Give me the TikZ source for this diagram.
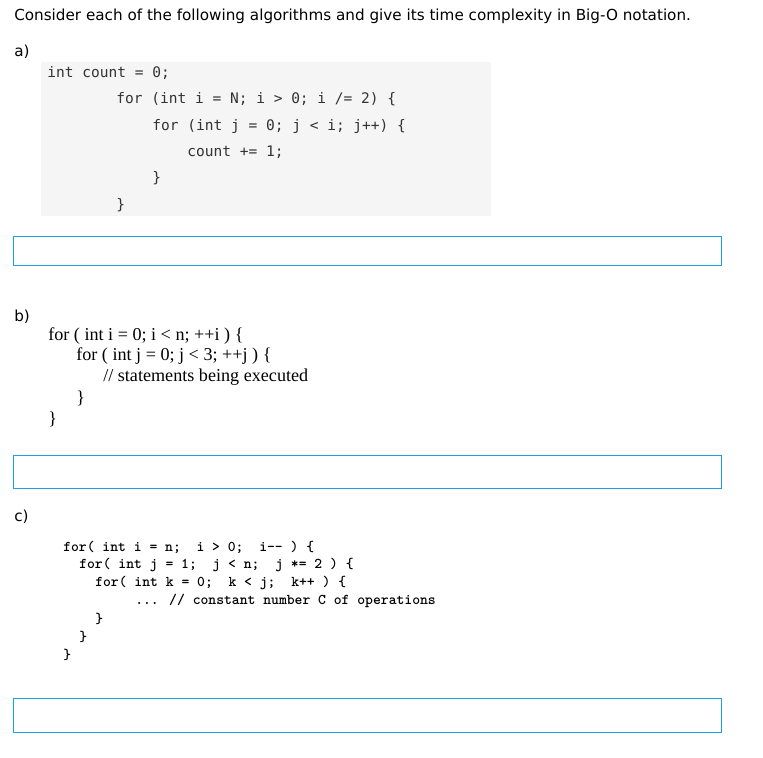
\documentclass[tikz,border=0pt]{standalone}
\usepackage{fontspec}
\setmainfont{DejaVu Sans}
\newfontfamily\codea{DejaVu Sans Mono}
\newfontfamily\codeb{Liberation Serif}
\definecolor{boxc}{HTML}{1AA3E0}
\begin{document}
\begin{tikzpicture}[x=0.75pt,y=-0.75pt,
  txt/.style={anchor=west,inner sep=0pt,font=\fontsize{11.4pt}{13pt}\selectfont},
  ca/.style={anchor=west,inner sep=0pt,font=\codea\fontsize{10.9pt}{12pt}\selectfont,text=black!80},
  cb/.style={anchor=west,inner sep=0pt,font=\codeb\fontsize{13.6pt}{15pt}\selectfont},
  cc/.style={anchor=west,inner sep=0pt,font=\ttfamily\bfseries\fontsize{11.2pt}{13pt}\selectfont},
  ans/.style={draw=boxc,line width=0.7pt}]
\useasboundingbox[fill=white] (0,0) rectangle (763,757);
\node[txt] (q) at (14,16) {Consider each of the following algorithms and give its time complexity in Big-O notation.};
\node[txt] (la) at (14,52) {a)};
\fill[black!4] (41,62) rectangle (491,216);
\node[ca] (a1) at (47,73) {int count = 0;};
\node[ca] (a2) at (116,99) {for (int i = N; i > 0; i /= 2) \{};
\node[ca] (a3) at (152,126) {for (int j = 0; j < i; j++) \{};
\node[ca] (a4) at (187,152) {count += 1;};
\node[ca] (a5) at (152,178) {\}};
\node[ca] (a6) at (116,205) {\}};
\draw[ans] (13,236) rectangle (721,265);
\node[txt] (lb) at (14,317) {b)};
\node[cb] (b1) at (48,336) {for ( int i = 0; i < n; ++i ) \{};
\node[cb] (b2) at (76,356) {for ( int j = 0; j < 3; ++j ) \{};
\node[cb] (b3) at (103,377) {// statements being executed};
\node[cb] (b4) at (76,398) {\}};
\node[cb] (b5) at (48,419) {\}};
\draw[ans] (13,455) rectangle (721,488);
\node[txt] (lc) at (14,517) {c)};
\node[cc] (c1) at (63,547) {for( int i = n;\ \ i > 0;\ \ i-- ) \{};
\node[cc] (c2) at (79,565) {for( int j = 1;\ \ j < n;\ \ j *= 2 ) \{};
\node[cc] (c3) at (95,583) {for( int k = 0;\ \ k < j;\ \ k++ ) \{};
\node[cc] (c4) at (135,601) {... // constant number C of operations};
\node[cc] (c5) at (95,619) {\}};
\node[cc] (c6) at (79,637) {\}};
\node[cc] (c7) at (63,655) {\}};
\draw[ans] (13,698) rectangle (721,732);
\end{tikzpicture}
\end{document}
